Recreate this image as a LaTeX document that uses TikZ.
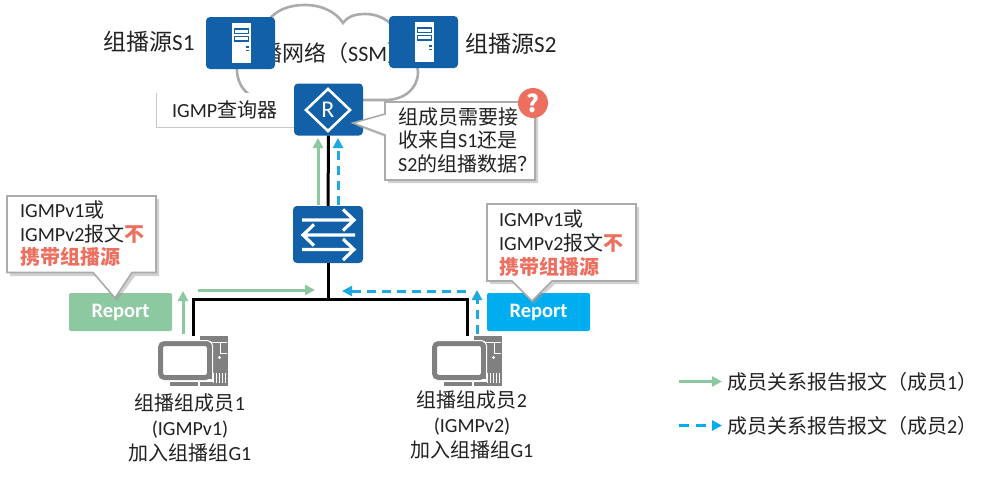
\documentclass[tikz,border=0pt]{standalone}
\usepackage{fontspec}
\setmainfont{Noto Sans CJK SC}
\newfontfamily\lat{Carlito}
\usetikzlibrary{arrows.meta,calc}
\definecolor{hwblue}{HTML}{1160A8}
\definecolor{repgreen}{HTML}{8CC8A0}
\definecolor{repblue}{HTML}{00AEEF}
\definecolor{dashblue}{HTML}{1FA9E1}
\definecolor{alert}{HTML}{EC6F60}
\definecolor{pcgray}{HTML}{808080}
\definecolor{cloudgray}{HTML}{ABABAB}
\definecolor{txt}{HTML}{222222}
\newcommand{\ff}[2]{\fontsize{#1}{#2}\selectfont}
\tikzset{
  x=1pt,y=-1pt,
  device/.style={draw=none,fill=hwblue,rounded corners=4pt,minimum width=69pt,minimum height=52pt,inner sep=0pt},
  lan/.style={line width=3pt,black},
  greenflow/.style={line width=3pt,repgreen,-{Triangle[length=10pt,width=10pt]}},
  blueflow/.style={line width=3pt,dashblue,dash pattern=on 9pt off 6pt,-{Triangle[length=10pt,width=10pt]}},
  lbl/.style={text=txt,inner sep=0pt,font=\ff{20}{25}},
  para/.style={text=txt,inner sep=0pt,align=left,anchor=north west,font=\ff{20}{23.7}},
  reportbox/.style={rounded corners=2pt,minimum width=103pt,minimum height=38pt,inner sep=0pt,text=white,font=\lat\bfseries\ff{20.5}{22}},
  calloutline/.style={draw=cloudgray,line width=1.6pt,fill=white,line join=miter},
  calloutshadow/.style={fill=black!40,opacity=.45,draw=none},
  whiteline/.style={white,line width=3.2pt},
  pcbody/.style={rectangle,minimum width=70pt,minimum height=50pt,inner sep=0pt},
}
\newcommand{\servericon}[2]{%
  \begin{scope}[shift={(#1,#2)}]
    \fill[white] (-9.5,-20) rectangle (9.5,20);
    \draw[hwblue,line width=1.3pt,fill=white] (-7,-14) rectangle (7,-9.5);
    \draw[hwblue,line width=1.3pt,fill=white] (-7,-6.5) rectangle (7,-2);
    \fill[hwblue] (4,3) rectangle (7.5,4.5);
    \fill[hwblue] (4,6.5) rectangle (7.5,8);
  \end{scope}}
\newcommand{\pcicon}[2]{%
  \begin{scope}[shift={(#1,#2)}]
    \fill[pcgray] (7,-25) rectangle (35,25);
    \draw[white,line width=.8pt] (14,-18.5) -- (34,-18.5) (27,-18.5) -- (27,-8) -- (34,-8);
    \fill[white] (26.5,-3.5) circle (1.6);
    \foreach \xx in {20,23,26,29,32}{\draw[white,line width=.9pt] (\xx,12) -- (\xx,22);}
    \fill[pcgray] (-23,20) rectangle (5,25);
    \fill[white] (-35.5,17.5) rectangle (20.5,20.5);
    \draw[pcgray,line width=5pt,fill=white,rounded corners=4pt] (-32.5,-17.5) rectangle (16.5,16.5);
    \draw[white,line width=1pt,rounded corners=5pt] (-35.5,-20.5) -- (19.5,-20.5) -- (19.5,19.5);
  \end{scope}}
\begin{document}
\begin{tikzpicture}
\useasboundingbox (0,0) rectangle (996,480);
\fill[white] (0,0) rectangle (996,480);
% cloud
\draw[cloudgray,line width=2.6pt,fill=white]
  (262,30) .. controls (270,14) and (283,5) .. (305,5)
  .. controls (322,5) and (336,12) .. (343,23)
  .. controls (348,16) and (356,14) .. (365,14)
  .. controls (376,14) and (386,18) .. (394,27)
  -- (405,60) .. controls (416,62) and (418,66) .. (418,72)
  .. controls (418,88) and (405,100) .. (385,100)
  -- (340,100) -- (250,95)
  .. controls (242,90) and (237,80) .. (237,70)
  .. controls (237,55) and (250,40) .. cycle;
\node[lbl,font=\ff{22}{26},anchor=west] (netlabel) at (238,53) {组播网络（{\lat SSM}）};
% querier label
\node[fill=white,draw=none,minimum width=137pt,minimum height=34pt,inner sep=0pt] (qbox) at (225.5,110) {};
\draw[black!22,line width=.8pt] (qbox.north west) -- (qbox.south west) -- (qbox.south east);
\node[lbl,anchor=west,font=\ff{20}{22}] (qtext) at (172,110) {{\lat IGMP}查询器};
% devices
\coordinate (junction) at (328,299);
\node[device] (router) at (328.5,109.5) {};
\node[device,minimum height=57pt,minimum width=70pt] (switch) at (328,234.5) {};
\node[device] (srcA) at (240.5,43) {};
\node[device] (srcB) at (423.5,42) {};
\node[pcbody] (pcA) at (193,361) {};
\node[pcbody] (pcB) at (467,361) {};
\servericon{241.5}{43}
\servericon{424.5}{42}
% router symbol
\draw[white,line width=2.6pt] (306,110) -- (328,89) -- (350,110) -- (328,131) -- cycle;
\node[text=white,inner sep=0pt,font=\lat\ff{24}{26}] (rletter) at (328,110) {R};
% switch symbol
\draw[whiteline] (302,220) -- (354,220) (343,209.5) -- (354,220) -- (343,230.5);
\draw[whiteline] (355,235) -- (303,235) (314,224.5) -- (303,235) -- (314,245.5);
\draw[whiteline] (302,249.5) -- (354,249.5) (343,239) -- (354,249.5) -- (343,260);
% links
\draw[lan] (router) -- (switch);
\draw[lan] (switch) -- (junction);
\draw[lan] (pcA.north) |- (junction);
\draw[lan] (pcB.north) |- (junction);
\pcicon{193}{361}
\pcicon{467}{361}
% flows
\coordinate (gA) at (318,205); \coordinate (gB) at (318,138);
\coordinate (bA) at (338,205); \coordinate (bB) at (338,138);
\coordinate (g1A) at (183,334); \coordinate (g1B) at (183,291);
\coordinate (g2A) at (198,290); \coordinate (g2B) at (315,290);
\coordinate (b1A) at (477,334); \coordinate (b1B) at (477,290);
\coordinate (b2A) at (466,291); \coordinate (b2B) at (342,291);
\draw[greenflow] (gA) -- (gB);
\draw[blueflow] (bA) -- (bB);
\draw[greenflow] (g1A) -- (g1B);
\draw[greenflow] (g2A) -- (g2B);
\draw[blueflow] (b1A) -- (b1B);
\draw[blueflow] (b2A) -- (b2B);
% reports
\node[reportbox,fill=repgreen] (repA) at (120.5,312) {\raisebox{-1.5pt}{Report}};
\node[reportbox,fill=repblue] (repB) at (538.5,312) {\raisebox{-1.5pt}{Report}};
% callouts
\fill[calloutshadow] (10,199) -- (159,199) -- (159,276) -- (135,276) -- (117,301) -- (96,276) -- (10,276) -- cycle;
\draw[calloutline] (7,196) -- (156,196) -- (156,272.5) -- (132,272.5) -- (115,298) -- (93,272.5) -- (7,272.5) -- cycle;
\fill[calloutshadow] (490,207) -- (639,207) -- (639,284) -- (555,284) -- (534,304) -- (515,284) -- (490,284) -- cycle;
\draw[calloutline] (487,204) -- (636,204) -- (636,281) -- (552,281) -- (532,301) -- (512,281) -- (487,281) -- cycle;
\fill[calloutshadow] (388,105) -- (538,105) -- (538,183) -- (388,183) -- (388,138) -- (356,126) -- (388,118) -- cycle;
\draw[calloutline] (385,102) -- (535,102) -- (535,180) -- (385,180) -- (385,135) -- (353,123) -- (385,114) -- cycle;
\node[para] (noteA) at (20,200.5) {{\lat IGMPv1}或\\{\lat IGMPv2}报文{\color{alert}\bfseries 不}\\{\color{alert}\bfseries 携带组播源}};
\node[para] (noteB) at (499,210) {{\lat IGMPv1}或\\{\lat IGMPv2}报文{\color{alert}\bfseries 不}\\{\color{alert}\bfseries 携带组播源}};
\node[para] (noteC) at (398,107) {组成员需要接\\收来自{\lat S1}还是\\{\lat S2}的组播数据？};
\node[circle,fill=alert,minimum size=30pt,inner sep=0pt,text=white,font=\bfseries\ff{24}{26}] (qmark) at (533,103) {?};
% names
\node[lbl,font=\ff{23}{26},anchor=west] (nameA) at (103,42) {组播源{\lat S1}};
\node[lbl,font=\ff{23}{26},anchor=west] (nameB) at (465,44) {组播源{\lat S2}};
\node[lbl,align=center] (memberA) at (190,428) {组播组成员{\lat 1}\\{\lat (IGMPv1)}\\加入组播组{\lat G1}};
\node[lbl,align=center] (memberB) at (472,424.5) {组播组成员{\lat 2}\\{\lat (IGMPv2)}\\加入组播组{\lat G1}};
% legend
\node[lbl,anchor=west] (legA) at (727,382) {成员关系报告报文（成员{\lat 1}）};
\node[lbl,anchor=west] (legB) at (727,426) {成员关系报告报文（成员{\lat 2}）};
\coordinate (la) at (679,381.5); \coordinate (lb) at (722,381.5);
\coordinate (lc) at (679,425.5); \coordinate (ld) at (722,425.5);
\draw[greenflow] (la) -- (lb);
\draw[line width=3pt,repblue,dash pattern=on 10pt off 7pt,-{Triangle[length=10pt,width=10pt]}] (lc) -- (ld);
\end{tikzpicture}
\end{document}
